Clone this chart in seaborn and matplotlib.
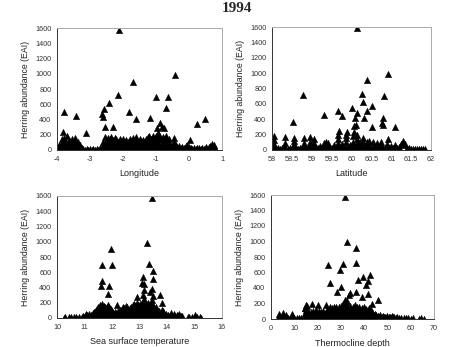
import matplotlib
matplotlib.use("Agg")
import matplotlib.pyplot as plt
import seaborn as sns
import pandas as pd

sns.set_theme(style="white")
plt.rcParams['font.family'] = ['Liberation Sans', 'DejaVu Sans']

# ---------------- Panel 1: Longitude ----------------
lon_high = [-3.80, -3.82, -3.41, -3.12, -2.64, -2.57, -2.43, -2.55, -2.29, -2.13, -2.14,
            -1.71, -1.81, -1.61, -1.18, -0.99, -0.97, -0.88, -0.82, -0.77, -0.65, -0.69,
            -0.42, -0.69, -0.45, 0.03, 0.24, 0.48, -2.62]
abund_lon_high = [500, 232, 443, 224, 474, 535, 618, 307, 307, 1570, 715,
                  890, 500, 403, 417, 689, 290, 350, 300, 285, 697, 548,
                  987, 190, 158, 132, 342, 408, 430]
lon_band = [-4.00, -3.95, -3.90, -3.85, -3.80, -3.75, -3.70, -3.65, -3.60, -3.55, -3.50, -3.45,
            -3.40, -3.35, -3.30, -3.25, -3.20, -3.15, -3.10, -3.05, -3.00, -2.95, -2.90, -2.85,
            -2.80, -2.75, -2.70, -2.65, -2.60, -2.55, -2.50, -2.45, -2.40, -2.35, -2.30, -2.25,
            -2.20, -2.15, -2.10, -2.05, -2.00, -1.95, -1.90, -1.85, -1.80, -1.75, -1.70, -1.65,
            -1.60, -1.55, -1.50, -1.45, -1.40, -1.35, -1.30, -1.25, -1.20, -1.15, -1.10, -1.05,
            -1.00, -0.95, -0.90, -0.85, -0.80, -0.75, -0.70, -0.65, -0.60, -0.55, -0.50, -0.45,
            -0.40, -0.35, -0.30, -0.25, -0.20, -0.15, -0.10, -0.05, 0.00, 0.05, 0.10, 0.15,
            0.20, 0.25, 0.30, 0.35, 0.40, 0.45, 0.50, 0.55, 0.60, 0.65, 0.70, 0.75, 0.80]
lon_band_heights = [[10, 40], [20, 60], [5, 50], [30, 90, 140], [10, 70, 160], [40, 110],
                    [20, 80, 180], [10, 60, 130], [30, 100], [15, 70, 150], [40, 120], [10, 90, 160],
                    [30, 60], [10, 100], [20, 70], [5, 30], [10], [5], [15], [5], [10], [5], [15], [5],
                    [10], [5], [20], [10, 40], [30, 100], [10, 80, 170], [40, 130], [20, 90, 160],
                    [60, 140], [10, 100, 170], [50, 130], [20, 90, 160], [60, 150], [30, 110],
                    [10, 70, 140], [40, 120], [20, 80, 150], [50, 100], [10, 70, 130], [40, 110],
                    [20, 90, 150], [60, 120], [30, 100, 160], [50, 130], [20, 90, 170], [60, 110],
                    [30, 90, 140], [50, 120], [20, 80, 130], [60, 110], [30, 90, 150], [50, 120, 170],
                    [20, 100, 180], [60, 140], [30, 110, 190], [70, 150], [40, 120, 180],
                    [80, 160, 220], [30, 130, 200], [70, 150], [40, 110, 170], [20, 80, 130],
                    [50, 100, 160], [20, 60], [40, 90, 140], [10, 50], [30, 70], [10, 50, 110],
                    [30, 60], [10, 40], [20, 50], [5, 30], [15, 40], [5, 25], [20, 50], [10, 60],
                    [20, 40], [5, 30], [15], [5, 25], [10], [20], [5, 30], [15], [5, 25], [10],
                    [20, 40], [5], [15, 35], [10, 50], [30, 80], [10, 60], [20]]

# ---------------- Panel 2: Latitude ----------------
lat_high = [58.53, 58.78, 59.32, 59.66, 59.69, 59.77, 59.89, 60.02, 60.06, 60.07, 60.12, 60.10,
            60.14, 60.15, 60.27, 60.28, 60.31, 60.39, 60.39, 60.52, 60.52, 60.78, 60.76, 60.78,
            60.83, 60.91, 60.91, 61.09]
abund_lat_high = [360, 710, 452, 513, 250, 439, 237, 548, 232, 316, 320, 417,
                  478, 1588, 732, 627, 417, 908, 504, 566, 303, 421, 346, 325,
                  706, 991, 145, 294]
lat_band = [58.02, 58.05, 58.10, 58.15, 58.20, 58.25, 58.30, 58.33, 58.40, 58.45, 58.50, 58.55,
            58.60, 58.65, 58.70, 58.75, 58.80, 58.85, 58.90, 58.95, 59.00, 59.05, 59.10, 59.15,
            59.20, 59.25, 59.30, 59.35, 59.40, 59.42, 59.45, 59.50, 59.55, 59.60, 59.65, 59.70,
            59.75, 59.80, 59.85, 59.90, 59.95, 60.00, 60.05, 60.10, 60.15, 60.20, 60.22, 60.25,
            60.30, 60.35, 60.38, 60.40, 60.45, 60.50, 60.55, 60.60, 60.65, 60.70, 60.75, 60.80,
            60.85, 60.90, 60.95, 61.00, 61.05, 61.10, 61.15, 61.20, 61.25, 61.30, 61.35, 61.40,
            61.45, 61.50, 61.55, 61.60, 61.65, 61.70, 61.75, 61.80, 61.85]
lat_band_heights = [[20], [30, 80, 130, 180], [15], [25], [15], [20], [25], [40, 90, 170], [15], [20],
                    [25], [30, 80, 120, 160], [20], [15], [25], [20], [40, 90, 160], [20], [25],
                    [50, 100, 170], [20], [40, 90, 140], [25], [30], [50], [30], [40, 90],
                    [60, 100], [50], [40, 90], [30], [25], [60], [20], [40, 90, 140, 190], [30],
                    [50, 80], [25], [40, 100, 150, 200], [30], [60], [30], [50, 100, 180], [40],
                    [40, 90, 140, 190], [30], [60, 110], [40], [40, 100, 150], [30], [60, 100],
                    [30], [50, 120], [25], [40, 100], [30], [60, 90], [30], [50, 100], [25],
                    [30], [40, 80], [25], [50], [20], [60], [25], [40], [80], [60, 120], [80],
                    [25], [30], [15], [15], [15], [15], [15], [15], [15], [10]]

# ---------------- Panel 3: Sea surface temperature ----------------
sst_high = [11.62, 11.64, 11.59, 11.89, 11.84, 11.98, 12.00, 12.17, 13.27, 13.33, 13.44, 13.48,
            13.49, 13.11, 13.16, 13.09, 13.15, 13.14, 13.16, 13.38, 13.46, 13.50, 13.45, 13.75,
            13.82, 13.84, 12.91]
abund_sst_high = [690, 489, 424, 415, 310, 900, 699, 166, 983, 712, 1577, 616,
                  515, 537, 450, 463, 362, 306, 253, 340, 385, 292, 231, 297,
                  197, 87, 275]
sst_band = [10.25, 10.30, 10.45, 10.50, 10.60, 10.70, 10.80, 10.90, 10.95, 11.00, 11.05, 11.10,
            11.15, 11.20, 11.25, 11.30, 11.35, 11.40, 11.45, 11.50, 11.55, 11.60, 11.65, 11.70,
            11.75, 11.80, 11.85, 11.90, 11.95, 12.00, 12.05, 12.10, 12.15, 12.20, 12.25, 12.30,
            12.35, 12.40, 12.45, 12.50, 12.55, 12.60, 12.65, 12.70, 12.75, 12.80, 12.85, 12.90,
            12.95, 13.00, 13.05, 13.10, 13.15, 13.20, 13.25, 13.30, 13.35, 13.40, 13.45, 13.50,
            13.55, 13.60, 13.65, 13.70, 13.75, 13.80, 13.85, 13.90, 13.95, 14.00, 14.05, 14.10,
            14.15, 14.20, 14.25, 14.30, 14.35, 14.40, 14.45, 14.50, 14.55, 14.75, 14.80, 14.90,
            15.00, 15.05, 15.10, 15.20, 15.25]
sst_band_heights = [[5], [10], [10], [15], [10], [15], [10], [15], [20], [30], [50], [40], [50], [30],
                    [40], [60, 20], [80, 30], [100, 40], [120, 50], [140, 60, 20], [100, 40, 170],
                    [150, 70, 20], [110, 50, 180], [160, 80, 30], [120, 50, 150], [150, 90, 30],
                    [110, 60, 170], [150, 80, 30], [120, 50], [90, 40], [60, 20], [80, 30],
                    [60, 20], [90, 40], [70, 20], [100, 50], [120, 60, 20], [90, 40, 150],
                    [130, 70, 20], [110, 50, 160], [140, 80, 30], [100, 50], [130, 70, 20],
                    [150, 90, 40], [170, 110, 50], [140, 80, 30, 180], [160, 100, 40],
                    [130, 70, 200], [170, 110, 50], [140, 80, 20, 190], [160, 100, 40],
                    [130, 70, 200], [170, 110, 50], [140, 80, 20, 190], [160, 100, 40],
                    [130, 70, 200], [150, 90, 30], [120, 60, 180], [150, 90, 30], [120, 60, 170],
                    [100, 40], [80, 20, 150], [60, 110], [40, 90], [20, 60], [40, 100], [20, 70],
                    [30], [50], [20], [40], [20], [60], [30], [50], [20], [40], [20], [50], [20],
                    [30], [10], [15], [10], [40], [15], [10], [10], [5]]

# ---------------- Panel 4: Thermocline depth ----------------
depth_high = [31.9, 32.8, 36.5, 36.3, 31.0, 24.4, 29.6, 25.3, 30.1, 28.4, 33.5, 33.8, 36.3,
              37.5, 39.6, 41.5, 41.0, 42.5, 41.6, 39.1, 43.4, 46.0, 31.0, 31.6, 32.5, 23.7,
              17.8, 20.3, 14.7, 15.2, 25.3]
abund_depth_high = [1580, 998, 914, 725, 712, 703, 629, 462, 409, 352, 308, 338, 352,
                    505, 541, 492, 440, 571, 321, 286, 189, 242, 198, 242, 228, 176,
                    189, 185, 141, 176, 154]
depth_band = [3.5, 4.0, 5.0, 5.5, 6.5, 7.5, 8.5, 9.2, 10.0, 11.0, 12.0, 13.0, 14.0, 14.5, 15.0,
              15.5, 16.0, 16.5, 17.0, 17.5, 18.0, 18.5, 19.0, 19.5, 20.0, 20.5, 21.0, 21.5, 22.0,
              22.5, 23.0, 23.5, 24.0, 24.5, 25.0, 25.5, 26.0, 26.5, 27.0, 27.5, 28.0, 28.5, 29.0,
              29.5, 30.0, 30.5, 31.0, 31.5, 32.0, 32.5, 33.0, 33.5, 34.0, 34.5, 35.0, 35.5, 36.0,
              36.5, 37.0, 37.5, 38.0, 38.5, 39.0, 39.5, 40.0, 40.5, 41.0, 41.5, 42.0, 42.5, 43.0,
              43.5, 44.0, 44.5, 45.0, 45.5, 46.0, 46.5, 47.0, 47.5, 48.0, 48.5, 49.0, 49.5, 50.0,
              50.5, 51.0, 51.5, 52.0, 52.5, 53.0, 53.5, 54.0, 55.0, 56.0, 57.0, 58.0, 59.0, 60.0,
              61.0, 63.5, 64.5, 65.5]
depth_band_heights = [[40, 70], [10], [30, 80], [10], [20, 50], [10], [20], [60], [10], [15], [10],
                      [15], [30], [80, 140], [40, 110], [60, 170], [20, 100], [60], [30, 90], [50],
                      [20, 100], [60], [30, 80], [50, 110], [20, 70], [40, 100], [60], [20, 90],
                      [50], [30, 100], [60], [20, 90], [50, 120], [30, 80], [60, 130], [20, 100],
                      [50, 140], [30, 90], [70, 150], [20, 110], [60, 160], [30, 100], [70, 150],
                      [20, 120], [60, 170], [30, 110], [80, 150], [20, 120], [60, 180], [30, 100],
                      [80, 150], [20, 120], [60, 170], [30, 110], [80, 150], [20, 120], [60, 180],
                      [30, 100], [70, 150], [20, 120], [60, 160], [30, 100], [70, 140], [20, 110],
                      [50, 150], [30, 90], [60, 130], [20, 100], [50, 140], [30, 80], [60, 120],
                      [20, 90], [50], [30, 70], [50], [20], [40], [20], [50], [20], [40], [20],
                      [30], [15], [40], [20], [30], [15], [40], [20], [30], [15], [20], [10], [15],
                      [10], [15], [10], [5], [10], [5], [10], [5]]

# x-axis settings per panel
panel_titles = ["Longitude", "Latitude", "Sea surface temperature", "Thermocline depth"]
x_ticks = [[-4, -3, -2, -1, 0, 1],
           [58, 58.5, 59, 59.5, 60, 60.5, 61, 61.5, 62],
           [10, 11, 12, 13, 14, 15, 16],
           [0, 10, 20, 30, 40, 50, 60, 70]]
x_tick_labels = [["-4", "-3", "-2", "-1", "0", "1"],
                 ["58", "58.5", "59", "59.5", "60", "60.5", "61", "61.5", "62"],
                 ["10", "11", "12", "13", "14", "15", "16"],
                 ["0", "10", "20", "30", "40", "50", "60", "70"]]
y_ticks = [0, 200, 400, 600, 800, 1000, 1200, 1400, 1600]


def build(high_x, high_y, band_x, band_h):
    xs = list(high_x)
    ys = list(high_y)
    for bx, hs in zip(band_x, band_h):
        for h in hs:
            xs.append(bx)
            ys.append(h)
    return pd.DataFrame({"x": xs, "y": ys})


frames = [build(lon_high, abund_lon_high, lon_band, lon_band_heights),
          build(lat_high, abund_lat_high, lat_band, lat_band_heights),
          build(sst_high, abund_sst_high, sst_band, sst_band_heights),
          build(depth_high, abund_depth_high, depth_band, depth_band_heights)]

W, H = 474, 347
fig = plt.figure(figsize=(W / 100, H / 100), dpi=100)
fig.patch.set_facecolor("white")

boxes = [(57, 222, 28, 150), (272, 431, 27, 150), (57, 222, 196, 318), (271, 434, 195, 319)]

for i, (df, box) in enumerate(zip(frames, boxes)):
    l, r, t, b = box
    ax = fig.add_axes([l / W, (H - b) / H, (r - l) / W, (b - t) / H])
    sns.scatterplot(data=df, x="x", y="y", ax=ax, marker="^", s=20, color="black",
                    edgecolor="black", linewidth=0.4, legend=False)
    ax.set_xlim(x_ticks[i][0], x_ticks[i][-1])
    ax.set_ylim(0, 1600)
    ax.set_xticks(x_ticks[i])
    ax.set_xticklabels(x_tick_labels[i])
    ax.set_yticks(y_ticks)
    ax.set_yticklabels([str(v) for v in y_ticks])
    ax.tick_params(axis="both", labelsize=5.2, colors="#333333", length=2, width=0.5, pad=2,
                   direction="out")
    ax.set_xlabel(panel_titles[i], fontsize=6.5, color="#222222", labelpad=5)
    ax.set_ylabel("Herring abundance (EAI)", fontsize=6.3, color="#222222", labelpad=4)
    for side in ["left", "bottom"]:
        ax.spines[side].set_color("#333333")
        ax.spines[side].set_linewidth(0.7)
    for side in ["top", "right"]:
        ax.spines[side].set_color("#aaaaaa")
        ax.spines[side].set_linewidth(0.7)

fig.text(237 / W, 1 - 9 / H, "1994", ha="center", va="center", fontsize=11,
         fontweight="bold", family=["Liberation Serif", "DejaVu Serif"])

fig.savefig("out.png", dpi=100, facecolor="white")
